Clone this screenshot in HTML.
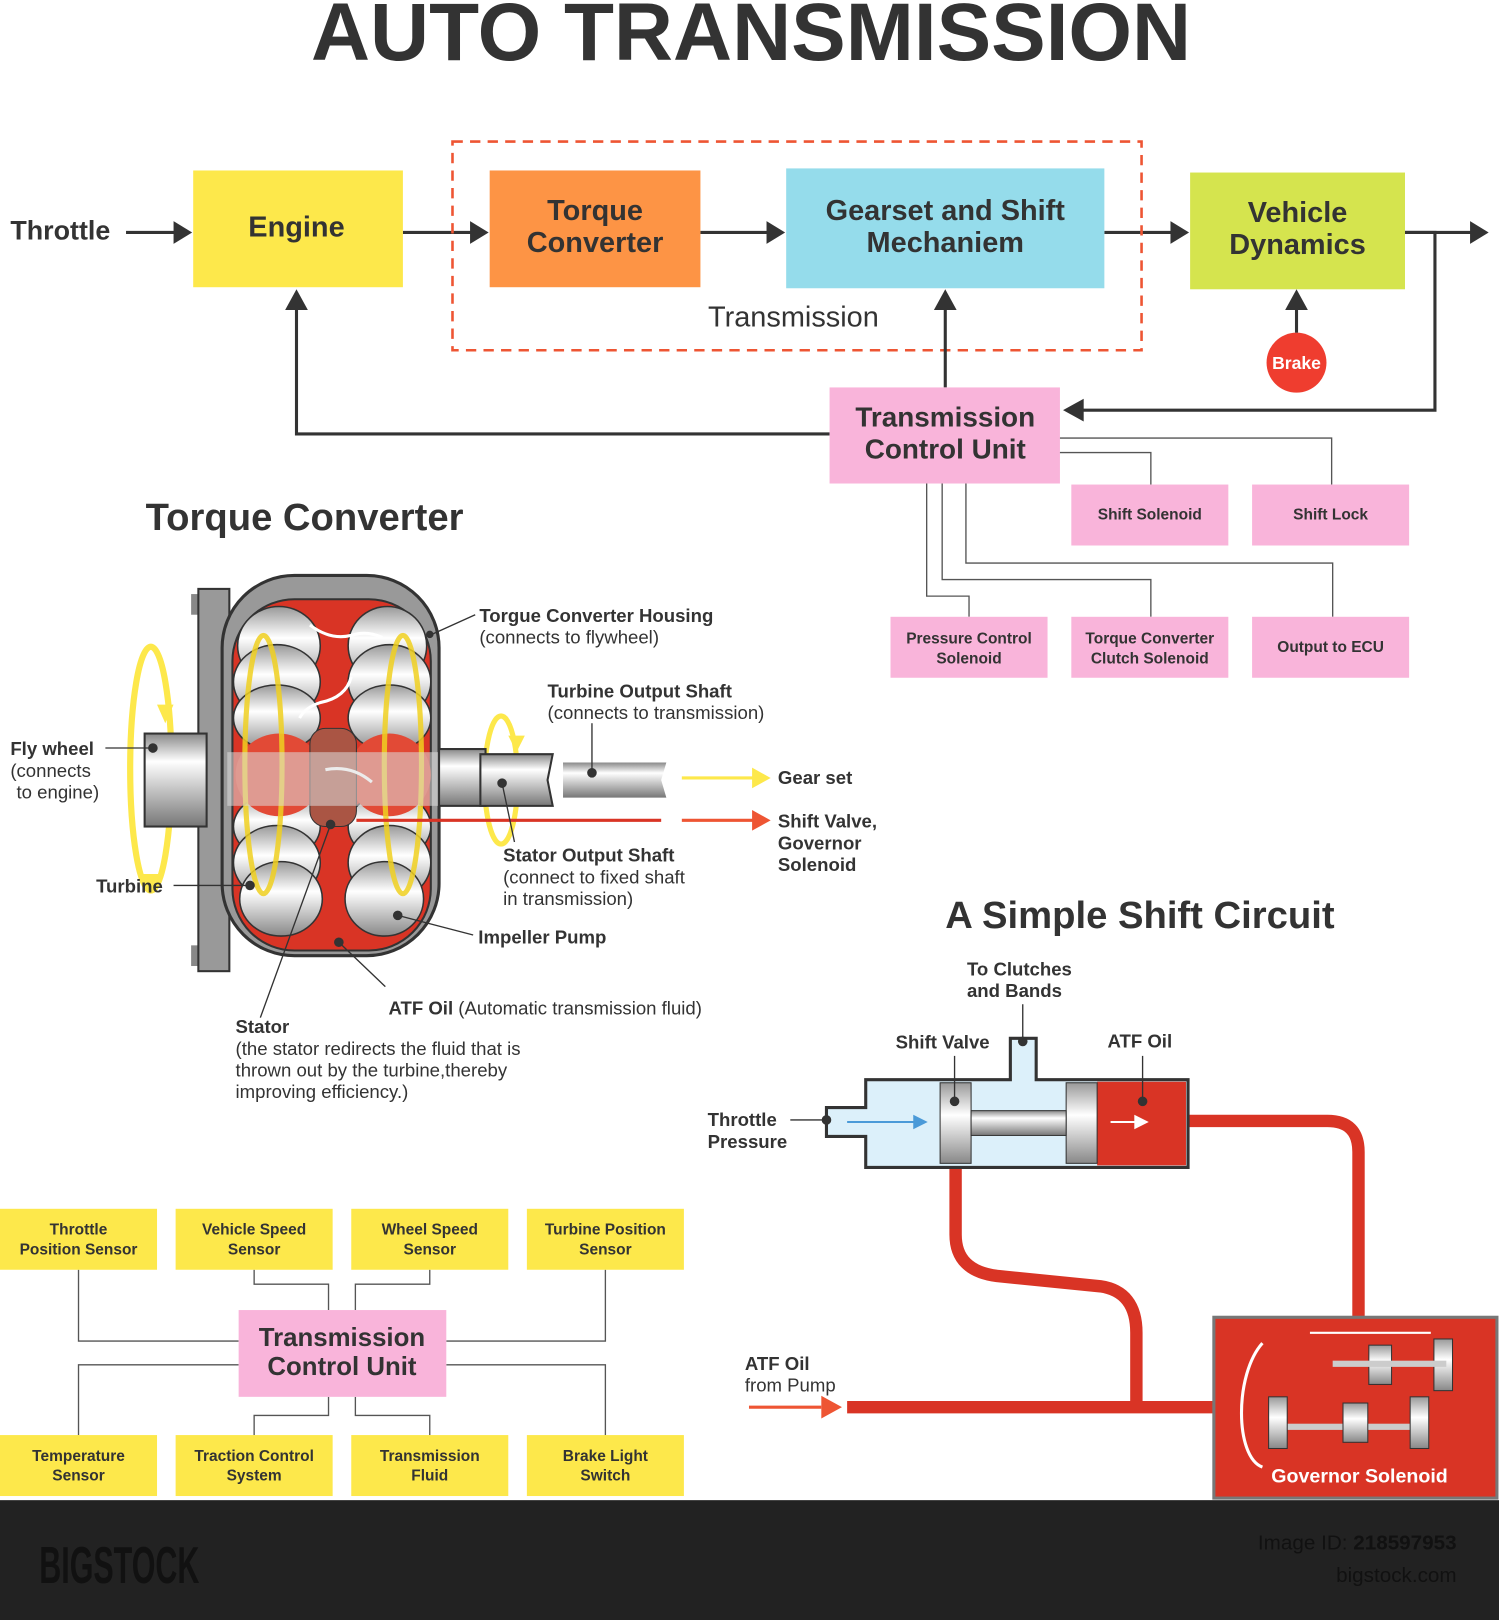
<!DOCTYPE html>
<html><head><meta charset="utf-8"><style>
html,body{margin:0;padding:0;background:#fff;width:1499px;height:1620px;overflow:hidden}
svg{display:block}
text{font-family:"Liberation Sans",Arial,sans-serif;fill:#333}
.b{font-weight:bold}
</style></head><body>
<svg width="1499" height="1620" viewBox="0 0 1451 1568" preserveAspectRatio="none" xmlns="http://www.w3.org/2000/svg">
<defs>
<linearGradient id="sh" x1="0" y1="0" x2="0" y2="1"><stop offset="0" stop-color="#888"/><stop offset=".3" stop-color="#fff"/><stop offset="1" stop-color="#777"/></linearGradient>
<linearGradient id="bl" x1="0" y1="0" x2="0" y2="1"><stop offset="0" stop-color="#999"/><stop offset=".4" stop-color="#fff"/><stop offset="1" stop-color="#888"/></linearGradient>
</defs>
<rect width="1451" height="1568" fill="#fff"/>
<text x="727" y="58" font-size="79" class="b" text-anchor="middle" fill="#333" textLength="852" lengthAdjust="spacingAndGlyphs">AUTO TRANSMISSION</text>

<text x="10" y="232" font-size="26" class="b">Throttle</text>
<g stroke="#333" stroke-width="3" fill="none">
<line x1="122" y1="225" x2="170" y2="225"/><line x1="390" y1="225" x2="458" y2="225"/><line x1="678" y1="225" x2="745" y2="225"/>
<line x1="1069" y1="225" x2="1136" y2="225"/><line x1="1360" y1="225" x2="1426" y2="225"/>
</g>
<g fill="#333">
<path d="M186,225 l-18,-11 v22z"/><path d="M473,225 l-18,-11 v22z"/><path d="M760,225 l-18,-11 v22z"/><path d="M1151,225 l-18,-11 v22z"/><path d="M1441,225 l-18,-11 v22z"/>
</g>
<rect x="187" y="165" width="203" height="113" fill="#fde84b"/>
<text x="287" y="229" font-size="28" class="b" text-anchor="middle">Engine</text>
<rect x="438" y="137" width="667" height="202" fill="none" stroke="#e53" stroke-width="2.5" stroke-dasharray="10,7"/>
<rect x="474" y="165" width="204" height="113" fill="#fd9445"/>
<text x="576" y="213" font-size="28" class="b" text-anchor="middle">Torque</text>
<text x="576" y="244" font-size="28" class="b" text-anchor="middle">Converter</text>
<rect x="761" y="163" width="308" height="116" fill="#95dceb"/>
<text x="915" y="213" font-size="28" class="b" text-anchor="middle">Gearset and Shift</text>
<text x="915" y="244" font-size="28" class="b" text-anchor="middle">Mechaniem</text>
<rect x="1152" y="167" width="208" height="113" fill="#d5e44e"/>
<text x="1256" y="215" font-size="28" class="b" text-anchor="middle">Vehicle</text>
<text x="1256" y="246" font-size="28" class="b" text-anchor="middle">Dynamics</text>
<text x="768" y="316" font-size="28" text-anchor="middle">Transmission</text>
<circle cx="1255" cy="351" r="29" fill="#ef3d2f"/>
<text x="1255" y="357" font-size="17" class="b" text-anchor="middle" style="fill:#fff">Brake</text>
<g stroke="#333" stroke-width="3" fill="none">
<line x1="1255" y1="322" x2="1255" y2="295"/><line x1="915" y1="375" x2="915" y2="296"/>
<polyline points="803,420 287,420 287,296"/><polyline points="1360,225 1389,225 1389,397 1046,397"/>
</g>
<g fill="#333"><path d="M1255,280 l-11,20 h22z"/><path d="M915,280 l-11,20 h22z"/><path d="M287,280 l-11,20 h22z"/><path d="M1029,397 l20,-11 v22z"/></g>
<rect x="803" y="375" width="223" height="93" fill="#f9b4da"/>
<text x="915" y="413" font-size="27" class="b" text-anchor="middle">Transmission</text>
<text x="915" y="444" font-size="27" class="b" text-anchor="middle">Control Unit</text>
<g stroke="#555" stroke-width="1.3" fill="none">
<polyline points="1026,438 1114,438 1114,469"/><polyline points="1026,424 1289,424 1289,469"/>
<polyline points="897,468 897,577 938,577 938,597"/><polyline points="912,468 912,561 1114,561 1114,597"/><polyline points="935,468 935,545 1290,545 1290,597"/>
</g>
<g fill="#f9b4da"><rect x="1037" y="469" width="152" height="59"/><rect x="1212" y="469" width="152" height="59"/><rect x="862" y="597" width="152" height="59"/><rect x="1037" y="597" width="152" height="59"/><rect x="1212" y="597" width="152" height="59"/></g>
<g font-size="15" class="b" text-anchor="middle">
<text x="1113" y="503">Shift Solenoid</text><text x="1288" y="503">Shift Lock</text>
<text x="938" y="623">Pressure Control</text><text x="938" y="642">Solenoid</text>
<text x="1113" y="623">Torque Converter</text><text x="1113" y="642">Clutch Solenoid</text>
<text x="1288" y="631">Output to ECU</text>
</g>

<!-- torque converter -->
<text x="141" y="513" font-size="37" class="b">Torque Converter</text>
<ellipse cx="146" cy="744" rx="20" ry="118" fill="none" stroke="#fde84b" stroke-width="6"/>
<path d="M146,862 l-8,-16 h16z" fill="#fde84b"/><path d="M160,700 l-8,-18 h16z" fill="#fde84b"/>
<ellipse cx="485" cy="755" rx="16" ry="62" fill="none" stroke="#fde84b" stroke-width="5"/>
<path d="M500,728 l-8,-16 h16z" fill="#fde84b"/>
<rect x="185" y="575" width="10" height="20" fill="#888"/><rect x="185" y="915" width="10" height="20" fill="#888"/>
<rect x="192" y="570" width="30" height="370" fill="#999" stroke="#333" stroke-width="2"/>
<rect x="140" y="710" width="60" height="90" fill="url(#sh)" stroke="#333" stroke-width="2"/>
<rect x="215" y="557" width="210" height="368" rx="70" fill="#999" stroke="#333" stroke-width="3"/>
<rect x="225" y="580" width="192" height="340" rx="60" fill="#d93425" stroke="#333" stroke-width="2"/>
<g fill="url(#bl)" stroke="#333" stroke-width="1.5">
<ellipse cx="270" cy="625" rx="40" ry="38"/><ellipse cx="268" cy="660" rx="42" ry="36"/><ellipse cx="268" cy="695" rx="42" ry="32"/>
<ellipse cx="268" cy="800" rx="42" ry="32"/><ellipse cx="268" cy="835" rx="42" ry="36"/><ellipse cx="272" cy="870" rx="40" ry="36"/>
<ellipse cx="375" cy="625" rx="38" ry="38"/><ellipse cx="377" cy="660" rx="40" ry="36"/><ellipse cx="377" cy="695" rx="40" ry="32"/>
<ellipse cx="377" cy="800" rx="40" ry="32"/><ellipse cx="377" cy="835" rx="40" ry="36"/><ellipse cx="372" cy="870" rx="38" ry="36"/>
</g>
<ellipse cx="270" cy="750" rx="42" ry="40" fill="#e24a36"/><ellipse cx="377" cy="750" rx="40" ry="40" fill="#e24a36"/>
<rect x="300" y="705" width="45" height="95" rx="15" fill="#a54" stroke="#333"/>
<g fill="none" stroke="#f0d020" stroke-width="5" opacity=".85">
<ellipse cx="255" cy="740" rx="18" ry="125"/><ellipse cx="390" cy="740" rx="18" ry="125"/>
</g>
<g fill="none" stroke="#fff" stroke-width="3"><path d="M300,605 q20,15 40,10 q15,-5 30,2"/><path d="M340,655 q-5,20 -30,25 q-15,5 -20,15"/><path d="M315,745 q25,-5 45,12"/></g>
<rect x="220" y="728" width="210" height="52" fill="#ddd" opacity=".55"/>
<rect x="425" y="725" width="45" height="55" fill="url(#sh)" stroke="#333" stroke-width="2"/>
<path d="M465,730 H535 L530,755 L535,780 H465z" fill="url(#sh)" stroke="#333" stroke-width="2"/>
<path d="M545,738 H645 L640,755 L645,772 H545z" fill="url(#sh)"/>
<line x1="345" y1="794" x2="640" y2="794" stroke="#d93425" stroke-width="3"/>
<line x1="660" y1="794" x2="730" y2="794" stroke="#e53" stroke-width="3"/><path d="M746,794 l-18,-10 v20z" fill="#e53"/>
<line x1="660" y1="753" x2="730" y2="753" stroke="#fde84b" stroke-width="3"/><path d="M746,753 l-18,-10 v20z" fill="#fde84b"/>
<g stroke="#333" stroke-width="1.3" fill="#333">
<line x1="102" y1="724" x2="148" y2="724"/><circle cx="148" cy="724" r="4"/>
<line x1="168" y1="857" x2="242" y2="857"/><circle cx="242" cy="857" r="4"/>
<line x1="460" y1="595" x2="418" y2="614"/><circle cx="416" cy="614" r="3"/>
<line x1="573" y1="700" x2="573" y2="748"/><circle cx="573" cy="748" r="4"/>
<line x1="498" y1="815" x2="486" y2="758"/><circle cx="486" cy="758" r="4"/>
<line x1="458" y1="905" x2="385" y2="886"/><circle cx="385" cy="886" r="4"/>
<line x1="373" y1="955" x2="328" y2="912"/><circle cx="328" cy="912" r="4"/>
<line x1="252" y1="985" x2="320" y2="798"/><circle cx="320" cy="798" r="4"/>
</g>
<g font-size="18">
<text x="464" y="602" class="b">Torgue Converter Housing</text><text x="464" y="623">(connects to flywheel)</text>
<text x="530" y="675" class="b">Turbine Output Shaft</text><text x="530" y="696">(connects to transmission)</text>
<text x="10" y="731" class="b">Fly wheel</text><text x="10" y="752">(connects</text><text x="16" y="773">to engine)</text>
<text x="93" y="864" class="b">Turbine</text>
<text x="753" y="759" class="b">Gear set</text>
<text x="753" y="801" class="b">Shift Valve,</text><text x="753" y="822" class="b">Governor</text><text x="753" y="843" class="b">Solenoid</text>
<text x="487" y="834" class="b">Stator Output Shaft</text><text x="487" y="855">(connect to fixed shaft</text><text x="487" y="876">in transmission)</text>
<text x="463" y="913" class="b">Impeller Pump</text>
<text x="376" y="982"><tspan class="b">ATF Oil</tspan> (Automatic transmission fluid)</text>
<text x="228" y="1000" class="b">Stator</text><text x="228" y="1021">(the stator redirects the fluid that is</text><text x="228" y="1042">thrown out by the turbine,thereby</text><text x="228" y="1063">improving efficiency.)</text>
</g>

<!-- sensors -->
<g stroke="#555" stroke-width="1.3" fill="none">
<polyline points="76,1229 76,1298 231,1298"/><polyline points="246,1229 246,1243 318,1243 318,1268"/>
<polyline points="416,1229 416,1243 344,1243 344,1268"/><polyline points="586,1229 586,1298 432,1298"/>
<polyline points="231,1321 76,1321 76,1389"/><polyline points="318,1352 318,1370 246,1370 246,1389"/>
<polyline points="344,1352 344,1370 416,1370 416,1389"/><polyline points="432,1321 586,1321 586,1389"/>
</g>
<g fill="#fde84b">
<rect x="0" y="1170" width="152" height="59"/><rect x="170" y="1170" width="152" height="59"/><rect x="340" y="1170" width="152" height="59"/><rect x="510" y="1170" width="152" height="59"/>
<rect x="0" y="1389" width="152" height="59"/><rect x="170" y="1389" width="152" height="59"/><rect x="340" y="1389" width="152" height="59"/><rect x="510" y="1389" width="152" height="59"/>
</g>
<rect x="231" y="1268" width="201" height="84" fill="#f9b4da"/>
<text x="331" y="1303" font-size="25" class="b" text-anchor="middle">Transmission</text>
<text x="331" y="1331" font-size="25" class="b" text-anchor="middle">Control Unit</text>
<g font-size="15" class="b" text-anchor="middle">
<text x="76" y="1195">Throttle</text><text x="76" y="1214">Position Sensor</text>
<text x="246" y="1195">Vehicle Speed</text><text x="246" y="1214">Sensor</text>
<text x="416" y="1195">Wheel Speed</text><text x="416" y="1214">Sensor</text>
<text x="586" y="1195">Turbine Position</text><text x="586" y="1214">Sensor</text>
<text x="76" y="1414">Temperature</text><text x="76" y="1433">Sensor</text>
<text x="246" y="1414">Traction Control</text><text x="246" y="1433">System</text>
<text x="416" y="1414">Transmission</text><text x="416" y="1433">Fluid</text>
<text x="586" y="1414">Brake Light</text><text x="586" y="1433">Switch</text>
</g>

<!-- shift circuit -->
<text x="915" y="898" font-size="37" class="b">A Simple Shift Circuit</text>
<g fill="none" stroke="#d93425" stroke-width="12">
<path d="M1150,1085 H1285 Q1315,1085 1315,1115 V1278"/>
<path d="M925,1128 V1195 Q925,1230 965,1235 L1065,1245 Q1100,1250 1100,1290 V1362"/>
<line x1="820" y1="1362" x2="1178" y2="1362"/>
</g>
<line x1="725" y1="1362" x2="795" y2="1362" stroke="#e53" stroke-width="3"/><path d="M815,1362 l-20,-11 v22z" fill="#e53"/>
<path d="M838,1045 H978 V1005 H1003 V1045 H1150 V1130 H838 V1100 H800 V1072 H838z" fill="#dcf0fa" stroke="#333" stroke-width="3"/>
<rect x="1062" y="1047" width="86" height="81" fill="#d93425"/>
<rect x="980" y="1040" width="21" height="10" fill="#dcf0fa"/>
<rect x="910" y="1048" width="30" height="78" fill="url(#bl)" stroke="#333"/>
<rect x="1032" y="1048" width="30" height="78" fill="url(#bl)" stroke="#333"/>
<rect x="940" y="1075" width="92" height="24" fill="url(#sh)" stroke="#333"/>
<line x1="820" y1="1086" x2="885" y2="1086" stroke="#4a9ad8" stroke-width="2"/><path d="M898,1086 l-14,-7 v14z" fill="#4a9ad8"/>
<line x1="1075" y1="1086" x2="1100" y2="1086" stroke="#fff" stroke-width="2"/><path d="M1112,1086 l-14,-7 v14z" fill="#fff"/>
<g stroke="#333" stroke-width="1.3" fill="#333">
<line x1="990" y1="972" x2="990" y2="1008"/><circle cx="990" cy="1008" r="4"/>
<line x1="924" y1="1022" x2="924" y2="1066"/><circle cx="924" cy="1066" r="4"/>
<line x1="1106" y1="1022" x2="1106" y2="1066"/><circle cx="1106" cy="1066" r="4"/>
<line x1="765" y1="1084" x2="800" y2="1084"/><circle cx="800" cy="1084" r="4"/>
</g>
<g font-size="18" class="b">
<text x="936" y="944">To Clutches</text><text x="936" y="965">and Bands</text>
<text x="867" y="1015">Shift Valve</text><text x="1072" y="1014">ATF Oil</text>
<text x="685" y="1090">Throttle</text><text x="685" y="1111">Pressure</text>
<text x="721" y="1326">ATF Oil</text><text x="721" y="1347" font-weight="normal">from Pump</text>
</g>
<rect x="1175" y="1275" width="274" height="175" fill="#d93425" stroke="#777" stroke-width="3"/>
<rect x="1232" y="1378" width="150" height="6" fill="#ccc"/>
<g fill="url(#bl)" stroke="#333"><rect x="1228" y="1352" width="18" height="50"/><rect x="1300" y="1358" width="24" height="38"/><rect x="1365" y="1352" width="18" height="50"/><rect x="1388" y="1296" width="18" height="50"/><rect x="1325" y="1302" width="22" height="38"/></g>
<rect x="1290" y="1317" width="110" height="6" fill="#ccc"/>
<path d="M1222,1300 C1195,1330 1195,1410 1222,1420" fill="none" stroke="#fff" stroke-width="3"/>
<line x1="1268" y1="1290" x2="1385" y2="1290" stroke="#fff" stroke-width="2"/>
<text x="1316" y="1435" font-size="19" class="b" text-anchor="middle" style="fill:#fff">Governor Solenoid</text>

<rect x="0" y="1452" width="1451" height="116" fill="#222"/>
<text x="38" y="1532" font-size="50" class="b" style="fill:#111" textLength="155" lengthAdjust="spacingAndGlyphs">BIGSTOCK</text>
<text x="1410" y="1500" font-size="20" text-anchor="end" style="fill:#111">Image ID: <tspan class="b">218597953</tspan></text>
<text x="1410" y="1531" font-size="20" text-anchor="end" style="fill:#111">bigstock.com</text>
</svg>
</body></html>
